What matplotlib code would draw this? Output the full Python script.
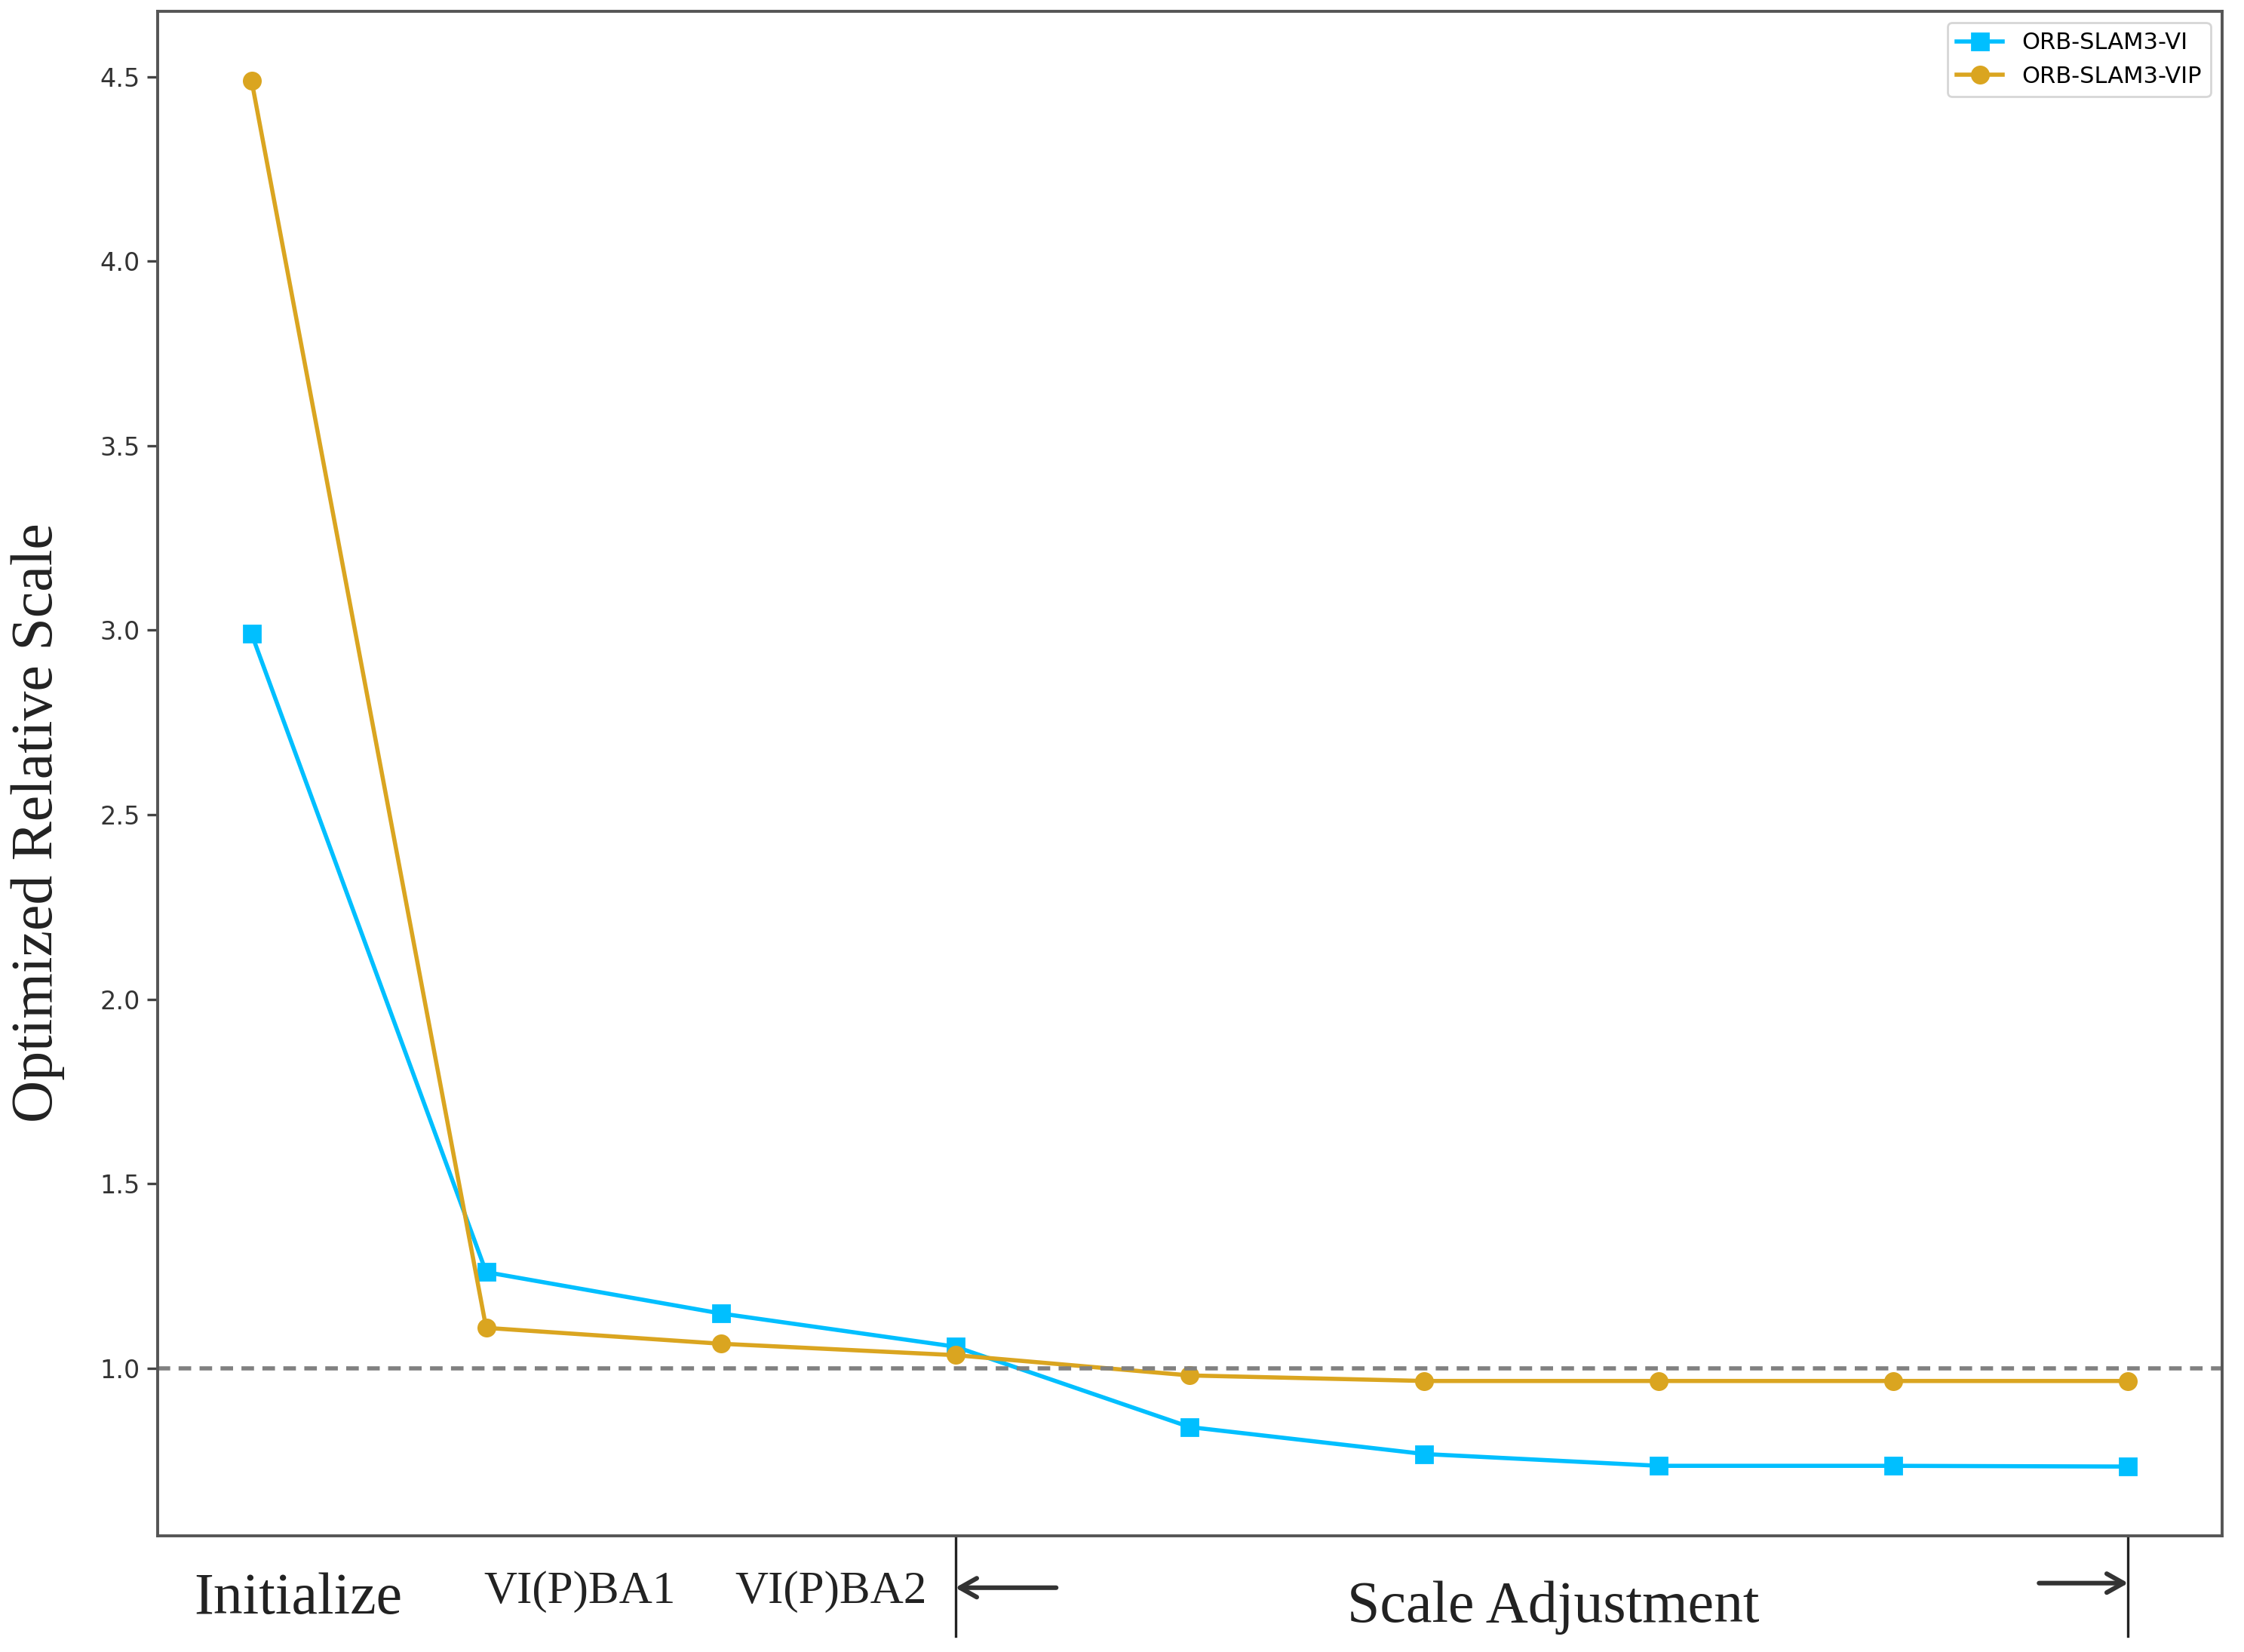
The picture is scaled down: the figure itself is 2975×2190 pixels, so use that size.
import matplotlib
matplotlib.use("Agg")
import matplotlib.pyplot as plt
import matplotlib.transforms as mtransforms

# values
steps = [0, 1, 2, 3, 4, 5, 6, 7, 8]
scale_vi = [2.99, 1.26, 1.148, 1.058, 0.84, 0.767, 0.735, 0.735, 0.733]
scale_vip = [4.49, 1.109, 1.066, 1.035, 0.98, 0.965, 0.965, 0.965, 0.965]

stage_labels = ["Initialize", "VI(P)BA1", "VI(P)BA2"]
stage_x = [0.2, 1.40, 2.47]
stage_size = [28, 22, 22]
stage_base = [-0.051, -0.044, -0.044]

adjust_start, adjust_end = 3, 8

serif = ["Liberation Serif", "DejaVu Serif"]

fig = plt.figure(figsize=(14.875, 10.95), dpi=200)
ax = fig.add_axes([0.0703, 0.0703, 0.9199, 0.9229])

ax.plot(steps, scale_vi, color="deepskyblue", marker="s", markersize=8,
        linewidth=2, label="ORB-SLAM3-VI")
ax.plot(steps, scale_vip, color="goldenrod", marker="o", markersize=8,
        linewidth=2, label="ORB-SLAM3-VIP")
ax.axhline(1.0, color="gray", linestyle=(0, (3, 2)), linewidth=2)

ax.set_yticks([1.0, 1.5, 2.0, 2.5, 3.0, 3.5, 4.0, 4.5])
ax.set_xticks([])
ax.tick_params(axis="y", labelsize=12, length=5, width=1.2, colors="#444444",
               labelcolor="#333333")
for sp in ax.spines.values():
    sp.set_color("#555555")
    sp.set_linewidth(1.4)

ax.set_ylabel("Optimized Relative Scale", fontsize=28, family=serif, color="#222222")
ax.yaxis.set_label_coords(-0.045, 0.468)

ax.legend(loc="upper right", fontsize=11)

# stage labels under the axis
trans = mtransforms.blended_transform_factory(ax.transData, ax.transAxes)
for lab, x, fs, yb in zip(stage_labels, stage_x, stage_size, stage_base):
    ax.text(x, yb, lab, transform=trans, ha="center", va="baseline",
            fontsize=fs, family=serif, color="#222222", clip_on=False)
ax.text(5.55, -0.0564, "Scale Adjustment", transform=trans, ha="center",
        va="baseline", fontsize=28, family=serif, color="#222222", clip_on=False)

# bracket lines and arrows for the scale adjustment stage
for xv in (adjust_start, adjust_end):
    ax.plot([xv, xv], [0, -0.066], transform=trans, color="#222222",
            linewidth=1.2, clip_on=False)
ax.annotate("", xy=(adjust_start, -0.034), xytext=(3.43, -0.034),
            xycoords=trans, textcoords=trans,
            arrowprops=dict(arrowstyle="->,head_length=0.8,head_width=0.45",
                            color="#333333", linewidth=2.2, shrinkA=0, shrinkB=0))
ax.annotate("", xy=(adjust_end, -0.031), xytext=(7.62, -0.031),
            xycoords=trans, textcoords=trans,
            arrowprops=dict(arrowstyle="->,head_length=0.8,head_width=0.45",
                            color="#333333", linewidth=2.2, shrinkA=0, shrinkB=0))

fig.savefig("out.png", dpi=200)
